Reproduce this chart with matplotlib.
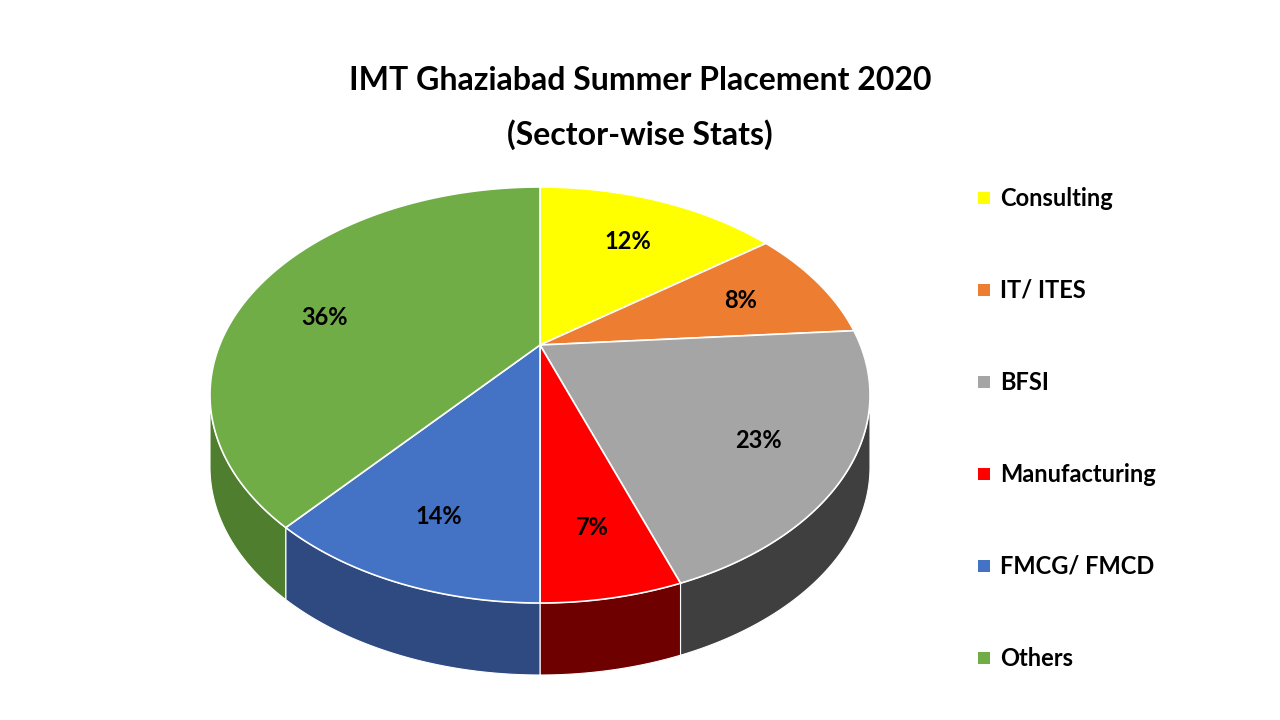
import numpy as np
import matplotlib.pyplot as plt
from matplotlib.patches import Polygon, Rectangle

labels = ['Consulting', 'IT/ ITES', 'BFSI', 'Manufacturing', 'FMCG/ FMCD', 'Others']
values = [12, 8, 23, 7, 14, 36]
top_colors = ['#FFFF00', '#ED7D31', '#A5A5A5', '#FF0000', '#4472C4', '#70AD47']
side_colors = ['#B3B300', '#A0521C', '#3F3F3F', '#6E0000', '#2E4A80', '#4E7E2E']

plt.rcParams['font.family'] = ['Lato', 'DejaVu Sans']

fig = plt.figure(figsize=(12.8, 7.2), dpi=100)
ax = fig.add_axes([0, 0, 1, 1])
ax.set_xlim(0, 1280)
ax.set_ylim(720, 0)
ax.axis('off')

# pie geometry (pixel space, perspective faked)
cx, cy = 540, 395      # ellipse centre
vx, vy = 540, 345      # apex of the slices
rx, ry = 330, 208
depth = 72

def arc(t):
    return cx + rx * np.cos(t), cy - ry * np.sin(t)

cum = np.cumsum([0] + values)
total = float(sum(values))
slices = []
for i, v in enumerate(values):
    a1 = np.deg2rad(90 - cum[i] / total * 360)
    a2 = np.deg2rad(90 - cum[i + 1] / total * 360)
    slices.append((a1, a2))

# side walls
for (a1, a2), sc in zip(slices, side_colors):
    t = np.linspace(a1, a2, 300)
    t = t[np.sin(t) <= 0]
    if len(t) < 2:
        continue
    x, y = arc(t)
    pts = np.vstack([np.column_stack([x, y]), np.column_stack([x[::-1], y[::-1] + depth])])
    ax.add_patch(Polygon(pts, closed=True, facecolor=sc, edgecolor='white', lw=0.8, zorder=2))

# top faces
for (a1, a2), tc, v in zip(slices, top_colors, values):
    t = np.linspace(a1, a2, 300)
    x, y = arc(t)
    pts = np.vstack([[vx, vy], np.column_stack([x, y])])
    ax.add_patch(Polygon(pts, closed=True, facecolor=tc, edgecolor='white', lw=1.2, zorder=3))
    m = (a1 + a2) / 2
    mx, my = arc(m)
    lx = vx + 0.72 * (mx - vx)
    ly = vy + 0.72 * (my - vy)
    ax.text(lx, ly, f'{v}%', fontsize=17, fontweight='bold', ha='center', va='center', zorder=4)

# title
ax.text(640, 80, 'IMT Ghaziabad Summer Placement 2020', fontsize=23, fontweight='bold',
        ha='center', va='center')
ax.text(640, 135, '(Sector-wise Stats)', fontsize=23, fontweight='bold', ha='center', va='center')

# legend
for i, (lab, c) in enumerate(zip(labels, top_colors)):
    y = 198 + i * 92
    ax.add_patch(Rectangle((978, y - 6), 12, 12, facecolor=c, edgecolor='none'))
    ax.text(1000, y, lab, fontsize=17, fontweight='bold', ha='left', va='center')

fig.savefig('out.png', dpi=100)
